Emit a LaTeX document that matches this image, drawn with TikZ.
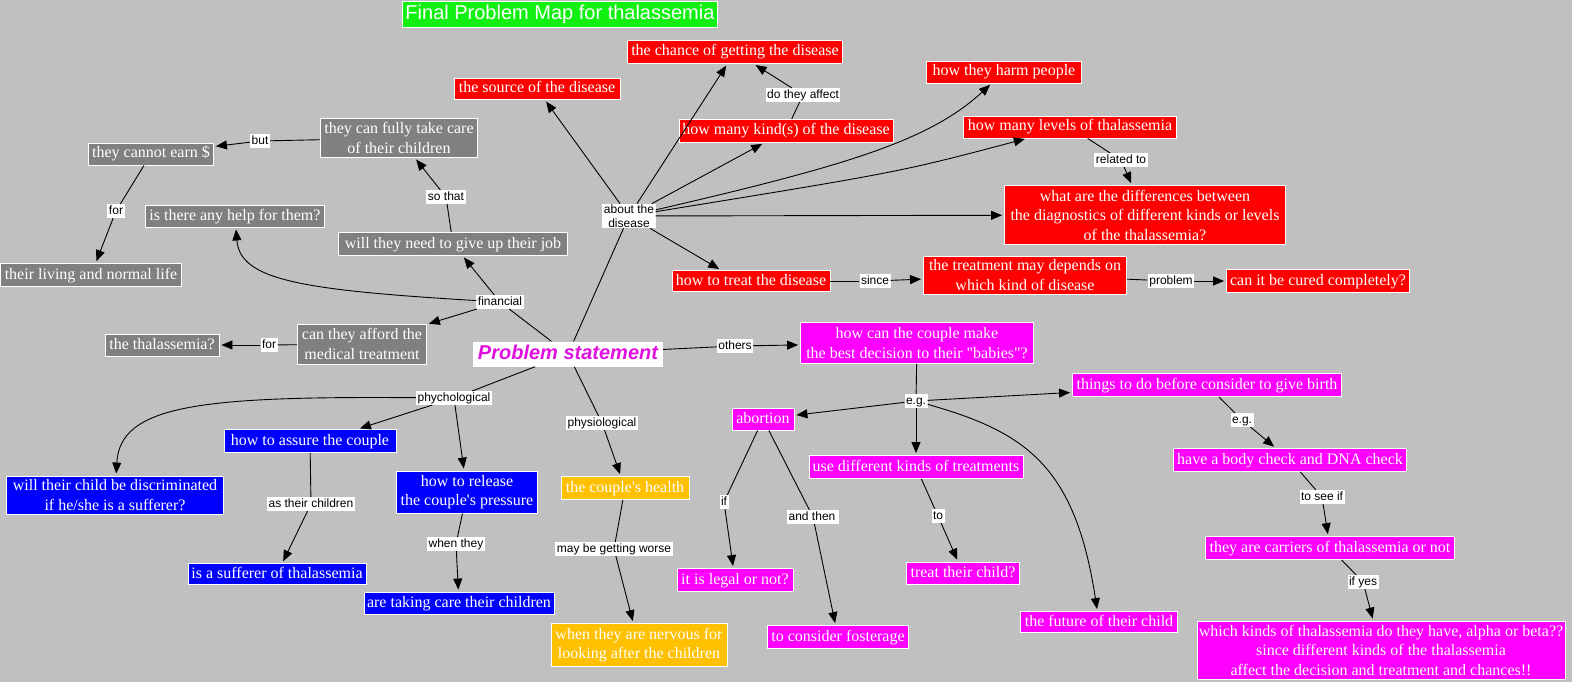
\documentclass[tikz,border=0pt]{standalone}
\usepackage{fontspec}
\newfontfamily\boxserif{Liberation Serif}
\newfontfamily\labsans{Liberation Sans}
\usetikzlibrary{arrows.meta}
\definecolor{bgc}{HTML}{C0C0C0}
\definecolor{cred}{HTML}{FF0000}
\definecolor{cgrey}{HTML}{808080}
\definecolor{cblue}{HTML}{0000FF}
\definecolor{cmag}{HTML}{FF00FF}
\definecolor{cyel}{HTML}{FFC000}
\definecolor{cgreen}{HTML}{11F011}
\definecolor{cps}{HTML}{E010E0}
\begin{document}
\begin{tikzpicture}[x=1pt,y=-1pt,
  sz/.style 2 args={minimum width=#1pt, minimum height=#2pt},
  bx/.style={draw=white, line width=0.9pt, text=white, inner sep=0pt, align=center,
             font=\boxserif\fontsize{16}{19.5}\selectfont},
  one/.style={text height=11.5pt, text depth=3.5pt},
  redb/.style={bx, fill=cred},
  greyb/.style={bx, fill=cgrey},
  blueb/.style={bx, fill=cblue},
  magb/.style={bx, fill=cmag},
  yelb/.style={bx, fill=cyel},
  titleb/.style={draw=white, line width=0.9pt, fill=cgreen, text=white, inner sep=0pt,
             font=\labsans\fontsize{20}{24}\selectfont, text height=14.5pt, text depth=4pt},
  psb/.style={fill=white, text=cps, inner sep=0pt,
             font=\labsans\bfseries\itshape\fontsize{20}{24}\selectfont, text height=14.5pt, text depth=4pt},
  lab/.style={fill=white, text=black, inner xsep=1.5pt, inner ysep=1pt, align=center,
             font=\labsans\fontsize{12}{13.5}\selectfont},
  lab1/.style={lab, text height=9pt, text depth=2.7pt},
  ln/.style={line width=0.9pt, black},
  arr/.style={ln, -{Triangle[length=11pt,width=9pt]}, shorten >=2pt}
]
\fill[bgc] (0,0) rectangle (1572,682);
\useasboundingbox (0,0) rectangle (1572,682);

% title
\node[titleb, sz={315}{26}] (title) at (560,14) {Final Problem Map for thalassemia};

% red nodes
\node[redb, one, sz={215}{23}] (chance) at (735,52) {the chance of getting the disease};
\node[redb, one, sz={166}{21}] (source) at (537,89) {the source of the disease};
\node[redb, one, sz={214}{23}] (kinds) at (786,131) {how many kind(s) of the disease};
\node[redb, one, sz={155}{22}] (harm) at (1004,72) {how they harm people};
\node[redb, one, sz={213}{22}] (levels) at (1070,127) {how many levels of thalassemia};
\node[redb, sz={281}{59}] (diff) at (1145,215) {what are the differences between\\the diagnostics of different kinds or levels\\of the thalassemia?};
\node[redb, one, sz={158}{21}] (treat) at (751,281) {how to treat the disease};
\node[redb, sz={203}{38}] (treatment) at (1025,275) {the treatment may depends on\\which kind of disease};
\node[redb, one, sz={183}{23}] (cured) at (1318,281) {can it be cured completely?};

% grey nodes
\node[greyb, sz={157}{39}] (fully) at (399,138) {they can fully take care\\of their children};
\node[greyb, one, sz={125}{22}] (cannot) at (151,154) {they cannot earn \$};
\node[greyb, one, sz={179}{22}] (help) at (235,216) {is there any help for them?};
\node[greyb, one, sz={229}{23}] (job) at (453,244) {will they need to give up their job};
\node[greyb, one, sz={181}{23}] (living) at (91,275) {their living and normal life};
\node[greyb, sz={129}{40}] (afford) at (362,344) {can they afford the\\medical treatment};
\node[greyb, one, sz={114}{22}] (thal) at (162,345) {the thalassemia?};

% problem statement
\node[psb, sz={190}{25}] (ps) at (568,354) {Problem statement};

% magenta nodes
\node[magb, sz={233}{41}] (babies) at (917,343) {how can the couple make\\the best decision to their "babies"?};
\node[magb, one, sz={269}{23}] (things) at (1207,385) {things to do before consider to give birth};
\node[magb, one, sz={62}{22}] (abortion) at (763,419) {abortion};
\node[magb, one, sz={214}{23}] (use) at (916,467) {use different kinds of treatments};
\node[magb, one, sz={233}{23}] (body) at (1290,460) {have a body check and DNA check};
\node[magb, one, sz={116}{23}] (legal) at (735,580) {it is legal or not?};
\node[magb, one, sz={113}{22}] (treatc) at (963,573) {treat their child?};
\node[magb, one, sz={141}{23}] (foster) at (838,637) {to consider fosterage};
\node[magb, one, sz={157}{21}] (future) at (1099,622) {the future of their child};
\node[magb, one, sz={249}{23}] (carriers) at (1330,548) {they are carriers of thalassemia or not};
\node[magb, sz={368}{58}] (which) at (1381,650) {which kinds of thalassemia do they have, alpha or beta??\\since different kinds of the thalassemia\\affect the decision and treatment and chances!!};

% blue nodes
\node[blueb, sz={217}{38}] (disc) at (115,495) {will their child be discriminated\\if he/she is a sufferer?};
\node[blueb, one, sz={172}{23}] (assure) at (310,441) {how to assure the couple};
\node[blueb, sz={141}{42}] (release) at (467,492) {how to release\\the couple's pressure};
\node[blueb, one, sz={178}{21}] (sufferer) at (277,574) {is a sufferer of thalassemia};
\node[blueb, one, sz={190}{22}] (takingc) at (459,603) {are taking care their children};

% yellow nodes
\node[yelb, one, sz={128}{23}] (health) at (625,488) {the couple's health};
\node[yelb, sz={176}{43}] (nervous) at (639,645) {when they are nervous for\\looking after the children};

% labels
\node[lab] (l_about) at (629,216) {about the\\disease};
\node[lab1] (l_doaff) at (803,95) {do they affect};
\node[lab1] (l_rel) at (1121,160) {related to};
\node[lab1] (l_since) at (875,281) {since};
\node[lab1] (l_prob) at (1171,281) {problem};
\node[lab1] (l_but) at (260,141) {but};
\node[lab1] (l_sothat) at (446,197) {so that};
\node[lab1] (l_for1) at (116,211) {for};
\node[lab1] (l_fin) at (500,302) {financial};
\node[lab1] (l_for2) at (269,345) {for};
\node[lab1] (l_others) at (735,346) {others};
\node[lab1] (l_eg1) at (916,401) {e.g.};
\node[lab1] (l_eg2) at (1242,420) {e.g.};
\node[lab1] (l_if) at (724,502) {if};
\node[lab1] (l_andthen) at (813,517) {and then\,};
\node[lab1] (l_to) at (938,516) {to};
\node[lab1] (l_seeif) at (1322,497) {to see if};
\node[lab1] (l_ifyes) at (1363,582) {if yes};
\node[lab1] (l_phy) at (454,398) {phychological};
\node[lab1] (l_as) at (311,504) {as their children};
\node[lab1] (l_when) at (456,544) {when they};
\node[lab1] (l_physio) at (602,423) {physiological};
\node[lab1] (l_worse) at (614,549) {may be getting worse};

% about the disease
\draw[ln] (ps) -- (l_about);
\draw[arr] (l_about) -- (source);
\draw[arr] (l_about) -- (chance);
\draw[arr] (l_about) -- (kinds);
\draw[arr] (l_about) .. controls (850,165) and (930,140) .. (harm);
\draw[arr] (l_about) .. controls (900,172) .. (levels);
\draw[arr] (l_about) -- (diff);
\draw[arr] (l_about) -- ([xshift=-30pt]treat.north);
\draw[ln] (kinds) -- (l_doaff);
\draw[arr] (l_doaff) -- (chance);
\draw[ln] (levels) -- (l_rel);
\draw[arr] (l_rel) -- (diff);
\draw[ln] (treat) -- (l_since);
\draw[arr] (l_since) -- (treatment);
\draw[ln] (treatment) -- (l_prob);
\draw[arr] (l_prob) -- (cured);

% financial
\draw[ln] (ps) -- (l_fin);
\draw[arr] (l_fin) .. controls (300,290) and (240,280) .. (help);
\draw[arr] (l_fin) -- (job);
\draw[arr] (l_fin) -- (afford);
\draw[ln] (job) -- (l_sothat);
\draw[arr] (l_sothat) -- (fully);
\draw[ln] (fully) -- (l_but);
\draw[arr] (l_but) -- (cannot);
\draw[ln] (cannot) -- (l_for1);
\draw[arr] (l_for1) -- (living);
\draw[ln] (afford) -- (l_for2);
\draw[arr] (l_for2) -- (thal);

% others
\draw[ln] (ps) -- (l_others);
\draw[arr] (l_others) -- (babies);
\draw[ln] (babies) -- (l_eg1);
\draw[arr] (l_eg1) -- (abortion);
\draw[arr] (l_eg1) -- (things);
\draw[arr] (l_eg1) -- (use);
\draw[arr] (l_eg1) .. controls (1025,432) and (1075,465) .. (future);
\draw[ln] (things) -- (l_eg2);
\draw[arr] (l_eg2) -- (body);
\draw[ln] (body) -- (l_seeif);
\draw[arr] (l_seeif) -- (carriers);
\draw[ln] (carriers) -- (l_ifyes);
\draw[arr] (l_ifyes) -- (which);
\draw[ln] (abortion) -- (l_if);
\draw[arr] (l_if) -- (legal);
\draw[ln] (abortion) -- (l_andthen);
\draw[arr] (l_andthen) -- (foster);
\draw[ln] (use) -- (l_to);
\draw[arr] (l_to) -- (treatc);

% phychological
\draw[ln] (ps) -- (l_phy);
\draw[arr] (l_phy) .. controls (200,396) and (120,405) .. (disc);
\draw[arr] (l_phy) -- ([xshift=48pt]assure.north);
\draw[arr] (l_phy) -- (release);
\draw[ln] (assure) -- (l_as);
\draw[arr] (l_as) -- (sufferer);
\draw[ln] (release) -- (l_when);
\draw[arr] (l_when) -- (takingc);

% physiological
\draw[ln] (ps) -- (l_physio);
\draw[arr] (l_physio) -- (health);
\draw[ln] (health) -- (l_worse);
\draw[arr] (l_worse) -- (nervous);
\end{tikzpicture}
\end{document}
